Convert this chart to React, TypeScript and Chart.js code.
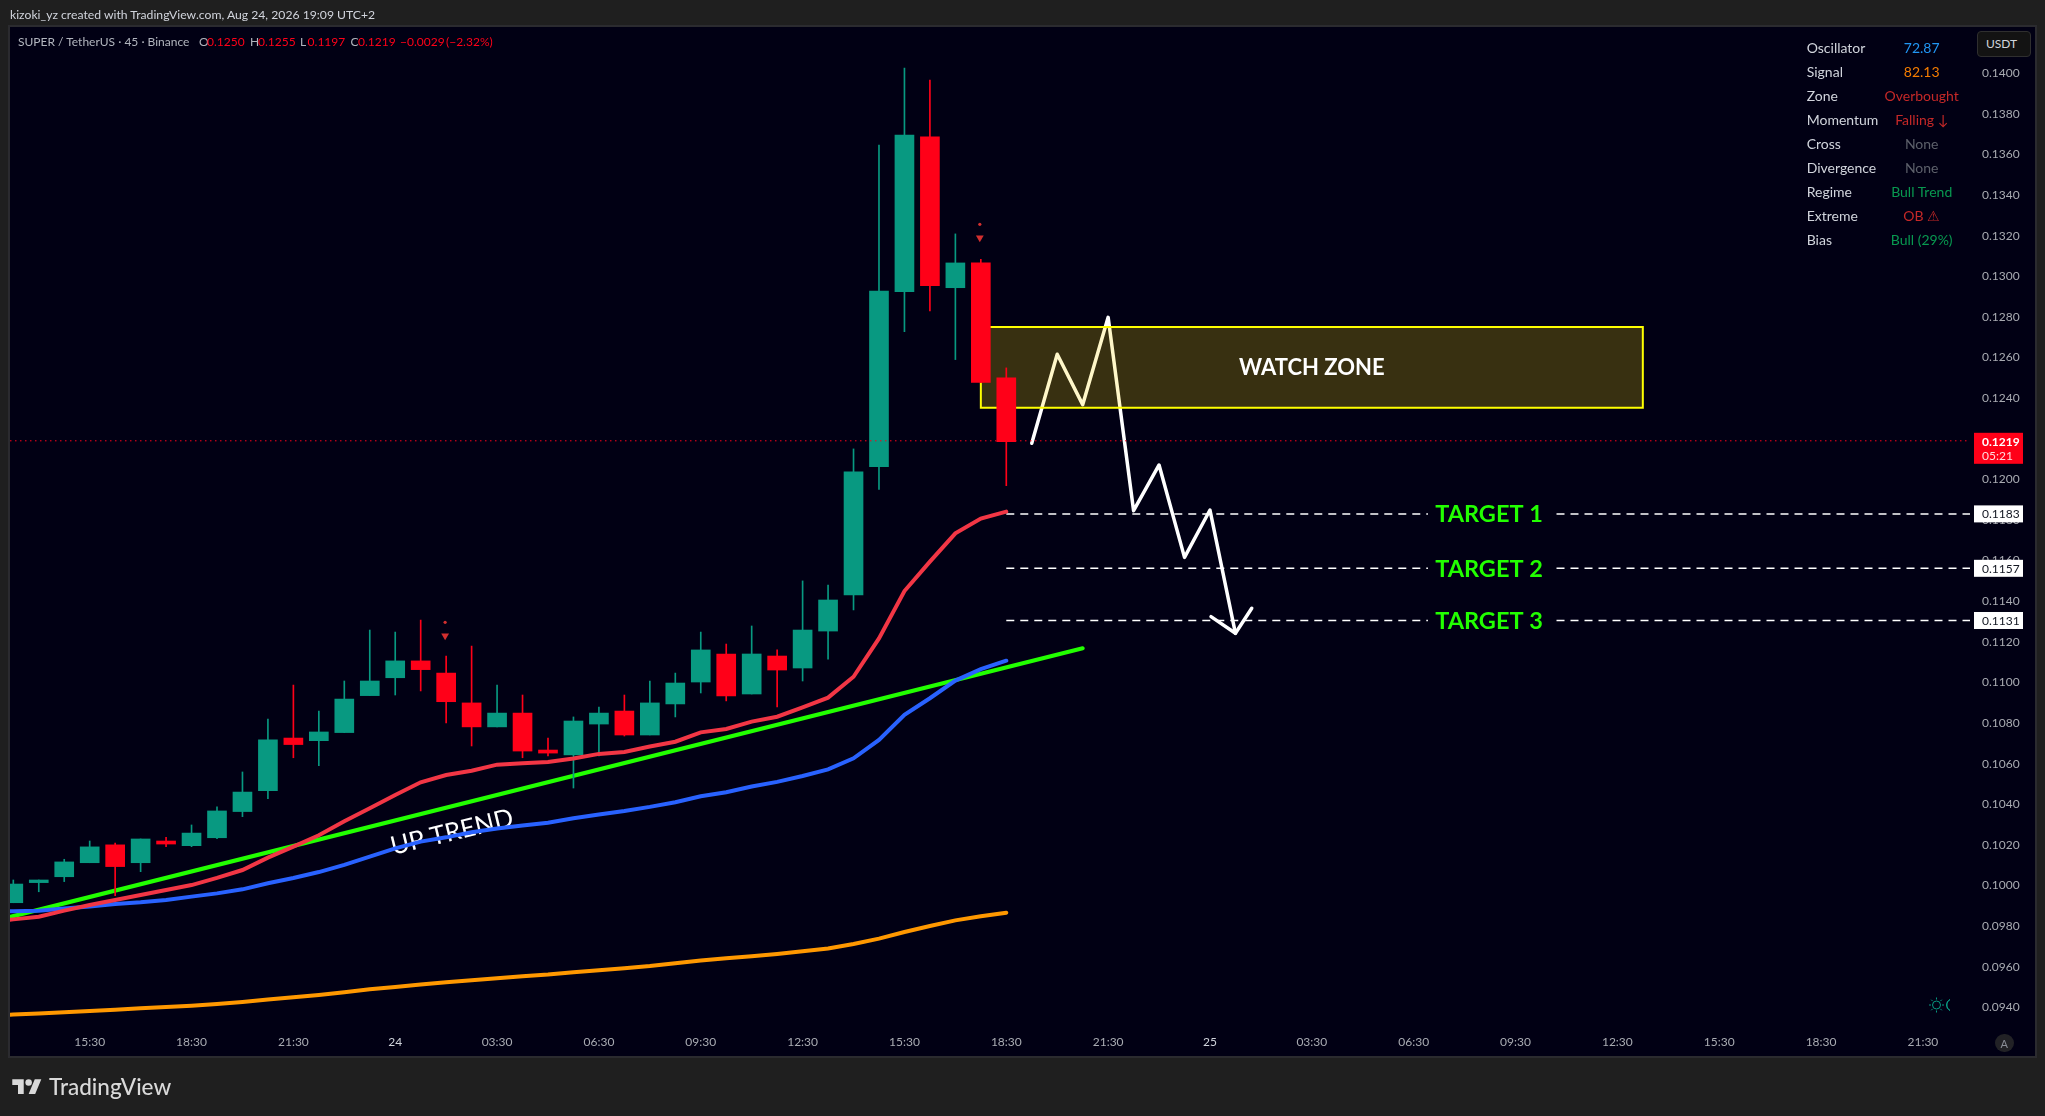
import React, { useEffect, useRef } from "react";
import { Chart, registerables } from "chart.js";

Chart.register(...registerables);

const FONT = "Lato, 'Open Sans', sans-serif";

const opens = [0.09915,0.10014,0.10043,0.10112,0.102,0.10112,0.10219,0.10196,0.10235,0.10364,0.10467,0.10726,0.10713,0.10753,0.10935,0.11023,0.11106,0.11046,0.10899,0.10781,0.10849,0.10667,0.10643,0.10795,0.10859,0.10741,0.10894,0.11002,0.1114,0.10943,0.1113,0.11071,0.11253,0.11431,0.12063,0.12925,0.13687,0.12944,0.13066,0.125];
const highs = [0.10027,0.10027,0.10129,0.10219,0.10209,0.10229,0.10237,0.10298,0.10387,0.10559,0.1082,0.10987,0.10859,0.11007,0.11258,0.11248,0.11307,0.1113,0.11179,0.10987,0.10938,0.10726,0.1083,0.10879,0.10938,0.11007,0.11046,0.11248,0.11189,0.11278,0.1116,0.115,0.1148,0.1215,0.13647,0.14026,0.13967,0.13209,0.13084,0.12549];
const lows = [0.09915,0.09969,0.10019,0.10112,0.0995,0.10068,0.10191,0.10191,0.1023,0.10339,0.10428,0.10629,0.1059,0.10753,0.10935,0.10938,0.10958,0.108,0.10687,0.10781,0.10629,0.10638,0.1048,0.10638,0.10736,0.10741,0.1083,0.10948,0.10909,0.10943,0.10879,0.11007,0.11115,0.11357,0.1195,0.12728,0.1283,0.1259,0.12477,0.11969];
const closes = [0.10007,0.10027,0.10116,0.1019,0.10093,0.10229,0.10204,0.10258,0.10367,0.1046,0.10717,0.10694,0.10756,0.10918,0.11007,0.11106,0.11063,0.10905,0.10781,0.10849,0.10662,0.10652,0.1081,0.10849,0.10741,0.10899,0.10997,0.1116,0.10933,0.1114,0.11061,0.11258,0.11406,0.12037,0.12928,0.13696,0.12954,0.13066,0.12477,0.12186];

// EMA values: first value sits one bar left of the first candle
const emaRed = [0.09822,0.09833,0.09846,0.09876,0.09904,0.09928,0.09953,0.09978,0.10002,0.10037,0.10076,0.10137,0.10191,0.10247,0.10316,0.1038,0.10446,0.10508,0.10544,0.10565,0.10595,0.10602,0.10608,0.10625,0.10648,0.10657,0.10684,0.10708,0.10754,0.10771,0.10807,0.10831,0.10877,0.10925,0.11028,0.11217,0.1145,0.11595,0.11734,0.11807,0.11841];
const emaBlue = [0.09871,0.09873,0.09876,0.09887,0.09896,0.09909,0.09917,0.09928,0.09945,0.09961,0.09981,0.10011,0.10037,0.10066,0.10101,0.10142,0.10183,0.10216,0.10237,0.10262,0.10281,0.10295,0.10309,0.10331,0.1035,0.10367,0.10387,0.1041,0.10439,0.10459,0.10487,0.1051,0.10539,0.10572,0.10626,0.10717,0.1084,0.10922,0.11009,0.11065,0.11107];
const emaOrange = [0.0936,0.09364,0.09369,0.09375,0.09382,0.09388,0.09395,0.09401,0.09408,0.09416,0.09426,0.09438,0.09449,0.09461,0.09474,0.09489,0.095,0.09512,0.09523,0.09533,0.09543,0.09553,0.09561,0.09572,0.09582,0.09592,0.09603,0.09617,0.0963,0.09641,0.09651,0.09663,0.09676,0.0969,0.09712,0.09738,0.09771,0.098,0.09828,0.09848,0.09866];

const trendX = [-0.13, 42.0];
const trendY = [0.09845, 0.11168];

const pathX = [40, 41, 42, 43, 44, 45, 46, 47, 48];
const pathY = [0.12178, 0.12616, 0.12368, 0.12798, 0.11846, 0.12071, 0.11616, 0.11849, 0.11242];
const headX = [47.04, 48, 48.64];
const headY = [0.11324, 0.11242, 0.11365];

const zoneX = [38, 64];
const zoneY = [0.12751, 0.12353];

const targetLevels = [0.1183, 0.11562, 0.11305];
const targetNames = ["TARGET 1", "TARGET 2", "TARGET 3"];
const targetPrices = ["0.1183", "0.1157", "0.1131"];

const signalX = [16.96, 37.96];
const signalTri = [0.1123, 0.1319];
const signalDot = [0.11296, 0.13256];

const lastPrice = 0.1219;
const xMin = -0.13;
const xMax = 76.85;

const priceTicks = [0.094,0.096,0.098,0.1,0.102,0.104,0.106,0.108,0.11,0.112,0.114,0.116,0.118,0.12,0.122,0.124,0.126,0.128,0.13,0.132,0.134,0.136,0.138,0.14];
const timeIdx = [3,7,11,15,19,23,27,31,35,39,43,47,51,55,59,63,67,71,75];
const timeLabels = ["15:30","18:30","21:30","24","03:30","06:30","09:30","12:30","15:30","18:30","21:30","25","03:30","06:30","09:30","12:30","15:30","18:30","21:30"];

const rowNames = ["Oscillator","Signal","Zone","Momentum","Cross","Divergence","Regime","Extreme","Bias"];
const rowValues = ["72.87","82.13","Overbought","Falling ↓","None","None","Bull Trend","OB ⚠","Bull (29%)"];
const rowColors = ["#2196f3","#f57c00","#c62828","#c62828","#5d606b","#5d606b","#089950","#c62828","#089950"];

const UP = "#089981";
const DOWN = "#ff0018";

function Txt(props: { x: number; y: number; c: string; s?: number; w?: number; a?: string; children: any }) {
  const { x, y, c, s = 12, w = 400, a = "left", children } = props;
  const tx = a === "center" ? "translate(-50%,-50%)" : "translateY(-50%)";
  return (
    <div style={{ position: "absolute", left: x, top: y, transform: tx, color: c, fontSize: s, fontWeight: w, fontFamily: FONT, whiteSpace: "nowrap", lineHeight: 1 }}>
      {children}
    </div>
  );
}

export default function App() {
  const ref = useRef<HTMLCanvasElement | null>(null);

  useEffect(() => {
    document.body.style.margin = "0";
    const idx = opens.map((_, i) => i);
    const emaPts = (arr: number[]) => arr.map((y, i) => ({ x: i - 1, y }));
    const xy = (xs: number[], ys: number[]) => xs.map((x, i) => ({ x, y: ys[i] }));
    const plain = { type: "line", pointRadius: 0, tension: 0, fill: false };

    const targetSets = targetLevels.map((lv, k) => ({
      ...plain,
      label: targetNames[k],
      order: 88,
      borderColor: "#ffffff",
      borderWidth: 1.5,
      borderDash: [8, 6],
      spanGaps: false,
      data: [
        { x: 39, y: lv },
        { x: 55.56, y: lv },
        { x: 58, y: null },
        { x: 60.61, y: lv },
        { x: xMax, y: lv },
      ],
    }));

    const overlay = {
      id: "overlay",
      beforeDatasetsDraw(chart: any) {
        const { ctx, scales } = chart;
        ctx.save();
        ctx.translate(scales.x.getPixelForValue(17.23), scales.y.getPixelForValue(0.10262));
        ctx.rotate((-13.6 * Math.PI) / 180);
        ctx.font = `400 25.5px ${FONT}`;
        ctx.fillStyle = "#ffffff";
        ctx.textAlign = "center";
        ctx.textBaseline = "middle";
        ctx.fillText("UP TREND", 0, 0);
        ctx.restore();
      },
      afterDraw(chart: any) {
        const { ctx, scales } = chart;
        const X = scales.x;
        const Y = scales.y;
        ctx.save();
        ctx.textBaseline = "middle";
        ctx.textAlign = "center";
        ctx.font = `700 22px ${FONT}`;
        ctx.fillStyle = "#ffffff";
        ctx.fillText("WATCH ZONE", X.getPixelForValue(51), Y.getPixelForValue(0.12549));
        ctx.font = `700 23.5px ${FONT}`;
        ctx.fillStyle = "#22ff00";
        targetLevels.forEach((lv, k) => {
          ctx.fillText(targetNames[k], X.getPixelForValue(57.96), Y.getPixelForValue(lv) + 1);
        });
        ctx.textAlign = "left";
        ctx.font = `400 12px ${FONT}`;
        targetLevels.forEach((lv, k) => {
          const py = Y.getPixelForValue(lv);
          ctx.fillStyle = "#ffffff";
          ctx.fillRect(1974, py - 8.5, 49, 17);
          ctx.fillStyle = "#131722";
          ctx.fillText(targetPrices[k], 1982, py + 0.5);
        });
        const ly = Y.getPixelForValue(lastPrice);
        ctx.fillStyle = DOWN;
        ctx.fillRect(1974, ly - 8, 49, 31);
        ctx.fillStyle = "#ffffff";
        ctx.font = `700 12px ${FONT}`;
        ctx.fillText(lastPrice.toFixed(4), 1982, ly + 1);
        ctx.font = `400 12px ${FONT}`;
        ctx.fillStyle = "#ffd9dc";
        ctx.fillText("05:21", 1982, ly + 15);
        ctx.restore();
      },
    };

    const chart = new Chart(ref.current as HTMLCanvasElement, {
      type: "bar",
      data: {
        datasets: [
          { ...plain, label: "path", order: 100, borderColor: "#ffffff", borderWidth: 3.5, borderCapStyle: "round", borderJoinStyle: "round", data: xy(pathX, pathY) },
          { ...plain, label: "head", order: 100, borderColor: "#ffffff", borderWidth: 3.5, borderCapStyle: "round", borderJoinStyle: "round", data: xy(headX, headY) },
          { ...plain, label: "zone", order: 90, borderWidth: 0, backgroundColor: "rgba(255,218,10,0.22)", fill: { target: { value: zoneY[1] } }, data: [{ x: zoneX[0], y: zoneY[0] }, { x: zoneX[1], y: zoneY[0] }] },
          { ...plain, label: "zoneBorder", order: 89, borderColor: "#ffff00", borderWidth: 2, data: [{ x: zoneX[0], y: zoneY[0] }, { x: zoneX[1], y: zoneY[0] }, { x: zoneX[1], y: zoneY[1] }, { x: zoneX[0], y: zoneY[1] }, { x: zoneX[0], y: zoneY[0] }] },
          ...targetSets,
          { ...plain, label: "trend", order: 85, borderColor: "#22ff00", borderWidth: 4, borderCapStyle: "round", data: xy(trendX, trendY) },
          { type: "bar", label: "wicks", order: 60, grouped: false, barThickness: 1, backgroundColor: idx.map((i) => (closes[i] >= opens[i] ? UP : DOWN)), data: idx.map((i) => ({ x: i, y: [lows[i], highs[i]] })) },
          { type: "bar", label: "bodies", order: 59, grouped: false, barThickness: 19, backgroundColor: idx.map((i) => (closes[i] >= opens[i] ? UP : DOWN)), data: idx.map((i) => ({ x: i, y: [opens[i], closes[i]] })) },
          { ...plain, label: "last", order: 50, borderColor: DOWN, borderWidth: 1, borderDash: [1.5, 3.5], data: [{ x: xMin, y: lastPrice }, { x: xMax, y: lastPrice }] },
          { ...plain, label: "emaOrange", order: 40, borderColor: "#ff9800", borderWidth: 4, borderCapStyle: "round", data: emaPts(emaOrange) },
          { ...plain, label: "emaBlue", order: 39, borderColor: "#2962ff", borderWidth: 4, borderCapStyle: "round", data: emaPts(emaBlue) },
          { ...plain, label: "emaRed", order: 38, borderColor: "#f23645", borderWidth: 4, borderCapStyle: "round", data: emaPts(emaRed) },
          { type: "line", label: "sigTri", order: 30, showLine: false, pointStyle: "triangle", rotation: 180, pointRadius: 4.5, pointBorderWidth: 0, pointBackgroundColor: "#d32f2f", data: xy(signalX, signalTri) },
          { type: "line", label: "sigDot", order: 30, showLine: false, pointStyle: "circle", pointRadius: 1.6, pointBorderWidth: 0, pointBackgroundColor: "#d32f2f", data: xy(signalX, signalDot) },
        ] as any,
      },
      plugins: [overlay],
      options: {
        responsive: false,
        devicePixelRatio: 1,
        animation: false,
        events: [],
        layout: { padding: { left: 10, top: 27, right: 10, bottom: 61 } },
        plugins: { legend: { display: false }, tooltip: { enabled: false } },
        scales: {
          x: {
            type: "linear",
            min: xMin,
            max: xMax,
            offset: false,
            grid: { display: false, drawTicks: false },
            border: { display: false },
            afterFit: (s: any) => { s.height = 27; },
            afterBuildTicks: (s: any) => { s.ticks = timeIdx.map((value) => ({ value })); },
            ticks: {
              autoSkip: false,
              maxRotation: 0,
              padding: 7,
              color: (c: any) => (c.tick && (c.tick.value === 15 || c.tick.value === 47) ? "#d1d4dc" : "#a9abb2"),
              font: { family: FONT, size: 12 },
              callback: (v: any) => timeLabels[timeIdx.indexOf(v)] ?? "",
            },
          },
          y: {
            type: "linear",
            position: "right",
            min: 0.09298,
            max: 0.14228,
            grid: { display: false, drawTicks: false },
            border: { display: false },
            afterFit: (s: any) => { s.width = 65; },
            afterBuildTicks: (s: any) => { s.ticks = priceTicks.map((value) => ({ value })); },
            ticks: {
              autoSkip: false,
              padding: 12,
              color: "#a9abb2",
              font: { family: FONT, size: 12 },
              callback: (v: any) => Number(v).toFixed(4),
            },
          },
        },
      } as any,
    });
    return () => chart.destroy();
  }, []);

  const rows = rowNames.map((n, i) => {
    const y = 48.3 + i * 24;
    return (
      <React.Fragment key={n}>
        <Txt x={1806.7} y={y} c="#d1d4dc" s={14}>{n}</Txt>
        <Txt x={1921.7} y={y} c={rowColors[i]} s={14} a="center">{rowValues[i]}</Txt>
      </React.Fragment>
    );
  });

  return (
    <div style={{ position: "fixed", left: 0, top: 0, width: 2045, height: 1116, background: "#1f1f1f", overflow: "hidden" }}>
      <div style={{ position: "absolute", left: 8, top: 25, width: 2025, height: 1029, background: "#010014", border: "2px solid #2b2b2f" }} />
      <canvas ref={ref} width={2045} height={1116} style={{ position: "absolute", left: 0, top: 0, width: 2045, height: 1116 }} />

      <Txt x={10} y={15} c="#d1d4dc" s={12.2}>kizoki_yz created with TradingView.com, Aug 24, 2026 19:09 UTC+2</Txt>

      <Txt x={18} y={42} c="#b2b5be">SUPER / TetherUS · 45 · Binance</Txt>
      <Txt x={199} y={42} c="#b2b5be">O</Txt>
      <Txt x={207} y={42} c={DOWN}>0.1250</Txt>
      <Txt x={250} y={42} c="#b2b5be">H</Txt>
      <Txt x={258} y={42} c={DOWN}>0.1255</Txt>
      <Txt x={300} y={42} c="#b2b5be">L</Txt>
      <Txt x={307.6} y={42} c={DOWN}>0.1197</Txt>
      <Txt x={350.4} y={42} c="#b2b5be">C</Txt>
      <Txt x={358} y={42} c={DOWN}>0.1219</Txt>
      <Txt x={400} y={42} c={DOWN}>−0.0029</Txt>
      <Txt x={446} y={42} c={DOWN}>(−2.32%)</Txt>

      {rows}

      <div style={{ position: "absolute", left: 1977, top: 31, width: 52, height: 24, background: "#131313", border: "1px solid #2f2f2f", borderRadius: 4 }} />
      <Txt x={1986} y={44} c="#d1d4dc">USDT</Txt>

      <svg style={{ position: "absolute", left: 1929, top: 996, width: 22, height: 18 }} viewBox="0 0 22 18" fill="none" stroke="#089981" strokeWidth="1">
        <circle cx="7.5" cy="9" r="4" />
        <path d="M7.5 1.5v2M7.5 14.5v2M0 9h2M13 9h2M2.2 3.7l1.4 1.4M11.4 12.9l1.4 1.4M2.2 14.3l1.4-1.4M11.4 5.1l1.4-1.4" />
        <path d="M21 3.5a6 6 0 0 0 0 11a6.5 6.5 0 0 1 0-11z" />
      </svg>

      <div style={{ position: "absolute", left: 1995, top: 1033.5, width: 18.6, height: 18.6, borderRadius: "50%", background: "#222226" }} />
      <Txt x={2004.3} y={1043} c="#8a8d96" s={11} a="center">A</Txt>

      <svg style={{ position: "absolute", left: 12, top: 1076, width: 30, height: 18 }} viewBox="0 0 36 22" fill="#d9d9d9">
        <path d="M14 22H7V11H0V4h14v18zM28 22h-8l7.5-18h8L28 22z" />
        <circle cx="20" cy="8" r="4" />
      </svg>
      <Txt x={49} y={1087} c="#d9d9d9" s={22.5} w={500}>TradingView</Txt>
    </div>
  );
}
